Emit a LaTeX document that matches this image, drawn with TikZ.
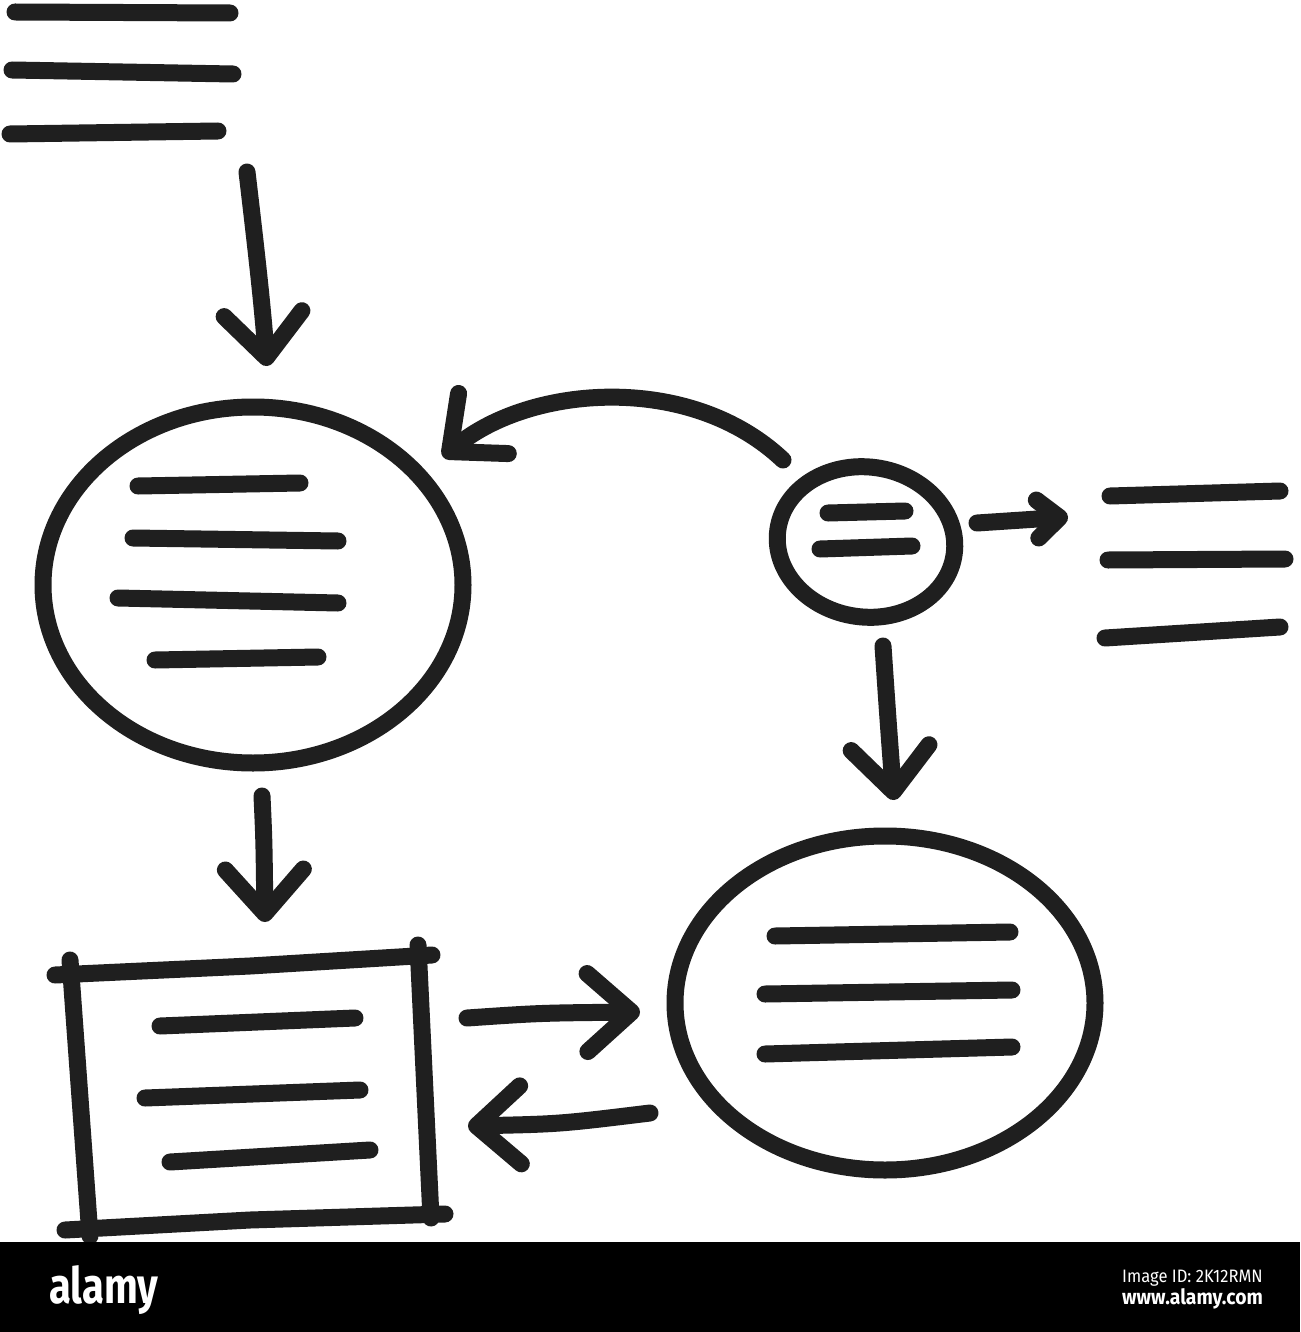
\documentclass[tikz,border=0pt]{standalone}
\usepackage{fontspec}
\newfontfamily\wmfont[FakeStretch=0.8]{Fira Sans}
\newfontfamily\wmsmall[FakeStretch=0.92]{Fira Sans}
\usetikzlibrary{arrows.meta,shapes.geometric}
\begin{document}
\begin{tikzpicture}[x=1pt,y=-1pt,
  ink/.style={line width=17pt, line cap=round, line join=round, draw=black!88},
  bubble/.style={ink, ellipse, inner sep=0pt},
  txtline/.style={ink},
  conn/.style={ink, -{Straight Barb[length=44pt,width=78pt,round]}},
  smallconn/.style={ink, -{Straight Barb[length=22pt,width=38pt,round]}},
]
\useasboundingbox (0,0) rectangle (1300,1332);
\fill[white] (0,0) rectangle (1300,1332);

% top-left text lines
\draw[txtline] (15,12) -- (230,13);
\draw[txtline] (12,70) -- (233,74);
\draw[txtline] (10,134) -- (218,131);

% bubbles
\node[bubble, minimum width=420pt, minimum height=356pt] (e1) at (253,585) {};
\node[bubble, minimum width=420pt, minimum height=334pt] (e2) at (885,1003) {};
\node[bubble, minimum width=178pt, minimum height=150pt, rotate=-8] (e3) at (866,542) {};

% text lines in e1
\draw[txtline] (138,486) -- (300,483);
\draw[txtline] (133,538) -- (338,541);
\draw[txtline] (118,598) -- (338,603);
\draw[txtline] (155,660) -- (318,657);

% text lines in e3
\draw[txtline] (828,513) -- (905,511);
\draw[txtline] (820,549) -- (912,546);

% right lines
\draw[txtline] (1110,496) -- (1280,491);
\draw[txtline] (1108,560) -- (1285,559);
\draw[txtline] (1105,638) -- (1280,627);

% text lines in e2
\draw[txtline] (775,936) -- (1010,932);
\draw[txtline] (765,994) -- (1012,990);
\draw[txtline] (765,1054) -- (1012,1047);

% box
\coordinate (box) at (255,1090);
\draw[ink] (55,975) -- (250,966) -- (432,955);
\draw[ink] (70,960) -- (90,1236);
\draw[ink] (418,945) -- (431,1218);
\draw[ink] (65,1230) -- (250,1220) -- (445,1214);
\draw[txtline] (160,1026) -- (355,1018);
\draw[txtline] (145,1098) -- (360,1090);
\draw[txtline] (170,1162) -- (370,1150);

% connector endpoints
\coordinate (a1s) at (247,172);
\coordinate (a1e) at (267,366);
\coordinate (a2s) at (262,796);
\coordinate (a2e) at (265,922);
\coordinate (a3s) at (783,460);
\coordinate (a3e) at (443,457);
\coordinate (a4s) at (977,523);
\coordinate (a4e) at (1068,517);
\coordinate (a5s) at (883,646);
\coordinate (a5e) at (894,800);
\coordinate (a6s) at (467,1018);
\coordinate (a6e) at (640,1012);
\coordinate (a7s) at (650,1113);
\coordinate (a7e) at (468,1126);

% connectors
\draw[conn] (a1s) .. controls (255,240) and (262,300) .. (a1e);
\draw[conn] (a2s) .. controls (264,840) .. (a2e);
\draw[conn] (a3s) .. controls (690,372) and (530,385) .. (a3e);
\draw[smallconn] (a4s) -- (a4e);
\draw[conn] (a5s) .. controls (888,720) .. (a5e);
\draw[conn] (a6s) .. controls (540,1013) .. (a6e);
\draw[conn] (a7s) .. controls (560,1124) .. (a7e);

% watermark bar
\fill[black] (0,1242) rectangle (1300,1332);
\node[anchor=base west, text=white, inner sep=0pt, font=\wmfont\bfseries\fontsize{50}{50}\selectfont] (wm) at (49,1303) {alamy};
\node[anchor=base west, text=white, inner sep=0pt, font=\wmsmall\fontsize{18}{18}\selectfont] (wmid) at (1122,1282) {Image ID: 2K12RMN};
\node[anchor=base west, text=white, inner sep=0pt, font=\wmsmall\bfseries\fontsize{21}{21}\selectfont] (wmurl) at (1122,1304) {www.alamy.com};
\end{tikzpicture}
\end{document}
